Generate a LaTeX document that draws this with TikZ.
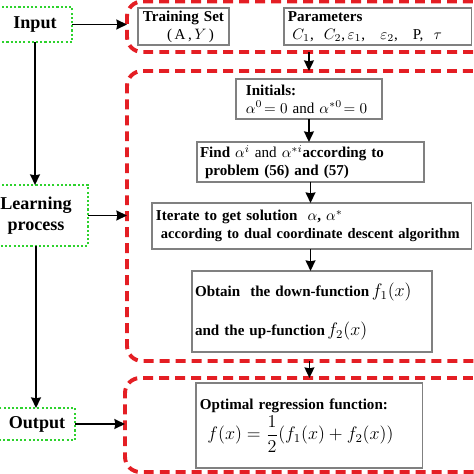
\documentclass[tikz,border=0pt]{standalone}
\usepackage{fontspec}
\setmainfont{Liberation Serif}
\usetikzlibrary{arrows.meta}
\definecolor{partred}{RGB}{228,30,36}
\definecolor{stagegreen}{RGB}{45,210,45}
\tikzstyle{stage} = [rectangle, draw=stagegreen, line width=0.8pt, dash pattern=on 1.4pt off 1.4pt, font=\large\bfseries, align=center, anchor=east, outer sep=0pt]
\tikzstyle{part} = [rectangle, draw=partred, line width=2.6pt, dash pattern=on 6.6pt off 4pt, rounded corners=10pt, anchor=north west, outer sep=0pt]
\tikzstyle{proc} = [rectangle, draw=gray, line width=0.8pt, anchor=north west, align=left, outer sep=0pt, inner ysep=0pt, font=\bfseries]
\tikzstyle{arrow} = [line width=1.2pt, ->, >={Stealth[length=7pt, width=6.5pt, inset=0.6pt]}]

\begin{document}
\begin{tikzpicture}[x=0.0233cm, y=-0.0233cm]
    \path [use as bounding box] (0,0) rectangle (474,474);
    \clip (0,0) rectangle (474,474);

    % stages on the left
    \node (in) [stage, minimum width=1.724cm, minimum height=0.816cm] at (72,24.5) {Input};
    \node (learn) [stage, minimum width=2.423cm, minimum height=1.421cm] at (88,215.5) {Learning\\process};
    \node (out) [stage, minimum width=1.771cm, minimum height=0.746cm] at (75,424) {Output};

    % red parts
    \node (data) [part, minimum width=9.157cm, minimum height=1.177cm] at (127,1.5) {};
    \node (lbox) [part, minimum width=9.157cm, minimum height=6.757cm] at (127,71) {};
    \node (obox) [part, minimum width=9.204cm, minimum height=2.190cm] at (125,378) {};

    % steps
    \node (train) [proc, text width=1.887cm, inner xsep=3.3pt, minimum height=0.862cm] at (138,8)
        {\mbox{Training Set}\\\hspace*{16pt}\textmd{(\,A\,,\,$Y$\,)}};
    \node (param) [proc, text width=4.194cm, inner xsep=2.6pt, minimum height=0.862cm] at (284,8)
        {Parameters\\\hspace*{3pt}\textmd{$C_1$,\ \ $C_2$,\,$\varepsilon_1$,\ \ \ $\varepsilon_2$,\ \ \ P,\ \ $\tau$}};
    \node (init) [proc, text width=2.936cm, inner xsep=6.6pt, minimum height=0.932cm] at (236,79)
        {Initials:\\\mbox{\textmd{$\alpha^0\!=0$ and $\alpha^{*0}\!=0$}}};
    \node (find) [proc, text width=5.149cm, inner xsep=2pt, minimum height=0.932cm] at (197,142)
        {\mbox{Find $\alpha^i$ \textmd{and} $\alpha^{*i}$according\ to}\\\ problem (56) and (57)};
    \node (iter) [proc, text width=7.270cm, inner xsep=2.6pt, minimum height=1.072cm] at (152,203)
        {Iterate to get solution\ \ $\alpha$,\ $\alpha^*$\\\mbox{\fontsize{9.6}{11}\selectfont\ according to dual coordinate descent algorithm}};
    \node (obtain) [proc, text width=5.452cm, inner xsep=2pt, minimum height=1.887cm] at (192,271)
        {\mbox{Obtain\ \ the down-function\,{\large$f_1(x)$}}\\[14pt]and the up-function\,{\large$f_2(x)$}};
    \node (opt) [proc, text width=5.103cm, inner xsep=2.6pt, minimum height=1.981cm] at (196,383)
        {Optimal regression function:\\[1pt]\hspace*{5pt}\large$\displaystyle f(x)=\frac{1}{2}(f_1(x)+f_2(x))$};

    \draw [arrow] (in.east) -- (in.east -| data.west);
    \draw [arrow] (learn.east) -- (learn.east -| lbox.west);
    \draw [arrow] (out.east) -- (out.east -| obox.west);
    \draw [arrow] (in.south) -- (in.south |- learn.north);
    \draw [arrow] (learn.south) -- (learn.south |- out.north);
    \draw [arrow] (data.south -| init.north) -- (lbox.north -| init.north);
    \draw [arrow] (init.south) -- (init.south |- find.north);
    \draw [arrow] (find.south) -- (find.south |- iter.north);
    \draw [arrow] (iter.south -| find.south) -- (obtain.north -| find.south);
    \draw [arrow] (lbox.south -| opt.north) -- (obox.north -| opt.north);
\end{tikzpicture}
\end{document}
